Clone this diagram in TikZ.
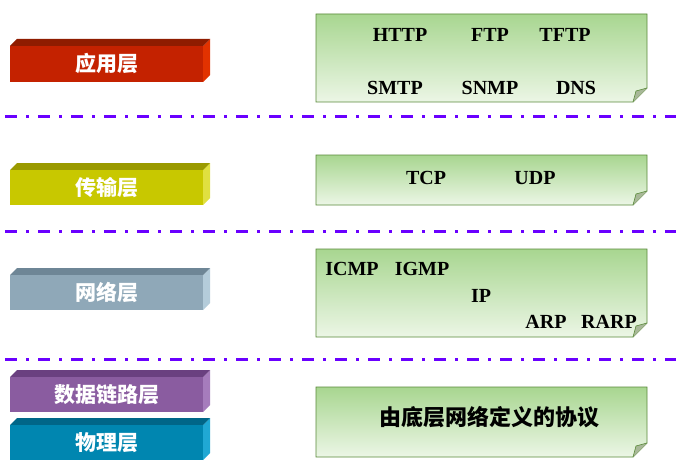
\documentclass[tikz,border=0pt]{standalone}
\usepackage{fontspec}
\setmainfont{Liberation Serif}
\newfontfamily\cjk{Noto Sans CJK SC}
\begin{document}
\begin{tikzpicture}[x=1pt,y=-1pt,
  sep/.style={draw=sepc,line width=3pt,dash pattern=on 12pt off 9pt on 3pt off 9pt},
  proto/.style={font=\bfseries\fontsize{20}{20}\selectfont,inner sep=0pt},
  lbl/.style={font=\cjk\bfseries\fontsize{21}{21}\selectfont,text=white,inner sep=0pt}]
\definecolor{sepc}{HTML}{6A00FF}
\definecolor{gtop}{HTML}{A8D690}\definecolor{gbot}{HTML}{ECF6E6}\definecolor{gline}{HTML}{5A8A3A}
\definecolor{fold}{HTML}{A8B898}
\useasboundingbox (0,0) rectangle (676,473);
\fill[white] (0,0) rectangle (676,473);
\newcommand{\layerbar}[6]{%
  \fill[#5] (203,#1) -- (210,#1-7) -- (210,#2-7) -- (203,#2) -- cycle;
  \fill[#4] (10,#1) -- (17,#1-7) -- (210,#1-7) -- (203,#1) -- cycle;
  \fill[#3] (10,#1) rectangle (203,#2);
  \node[lbl] at (106.5,{(#1+#2)/2}) {#6};}
\definecolor{r1}{HTML}{C42200}\definecolor{r2}{HTML}{8F1C00}\definecolor{r3}{HTML}{E23200}
\definecolor{y1}{HTML}{C8C800}\definecolor{y2}{HTML}{9A9A00}\definecolor{y3}{HTML}{E0E040}
\definecolor{b1}{HTML}{8FA8B8}\definecolor{b2}{HTML}{6E8696}\definecolor{b3}{HTML}{B4CCDA}
\definecolor{p1}{HTML}{8A5CA0}\definecolor{p2}{HTML}{6A4080}\definecolor{p3}{HTML}{A67CBC}
\definecolor{t1}{HTML}{0086B0}\definecolor{t2}{HTML}{006688}\definecolor{t3}{HTML}{20A8D4}
\layerbar{46}{82}{r1}{r2}{r3}{应用层}
\layerbar{170}{205}{y1}{y2}{y3}{传输层}
\layerbar{275}{310}{b1}{b2}{b3}{网络层}
\layerbar{377}{412}{p1}{p2}{p3}{数据链路层}
\layerbar{425}{460}{t1}{t2}{t3}{物理层}
\draw[sep] (5,117) -- (676,117);
\draw[sep] (5,231) -- (676,231);
\draw[sep] (5,359) -- (676,359);
\newcommand{\pbox}[2]{%
  \shade[top color=gtop,bottom color=gbot] (316,#1) -- (647,#1) -- (647,#2-14) -- (633,#2) -- (316,#2) -- cycle;
  \draw[gline,line width=0.8pt] (316,#1) -- (647,#1) -- (647,#2-14) -- (633,#2) -- (316,#2) -- cycle;
  \fill[fold] (647,#2-14) -- (633,#2) -- (636,#2-11) -- cycle;
  \draw[gline,line width=0.6pt] (647,#2-14) -- (636,#2-11) -- (633,#2);}
\pbox{14}{102}\pbox{155}{205}\pbox{249}{337}\pbox{387}{457}
\node[proto] (http) at (400,35) {HTTP};
\node[proto] (ftp) at (490,35) {FTP};
\node[proto] (tftp) at (565,35) {TFTP};
\node[proto] (smtp) at (395,88) {SMTP};
\node[proto] (snmp) at (490,88) {SNMP};
\node[proto] (dns) at (576,88) {DNS};
\node[proto] (tcp) at (426,178) {TCP};
\node[proto] (udp) at (535,178) {UDP};
\node[proto] (icmp) at (352,269) {ICMP};
\node[proto] (igmp) at (422,269) {IGMP};
\node[proto] (ip) at (481,296) {IP};
\node[proto] (arp) at (546,322) {ARP};
\node[proto] (rarp) at (609,322) {RARP};
\node[font=\cjk\bfseries\fontsize{22}{22}\selectfont,inner sep=0pt] (def) at (489,417) {由底层网络定义的协议};
\end{tikzpicture}
\end{document}
